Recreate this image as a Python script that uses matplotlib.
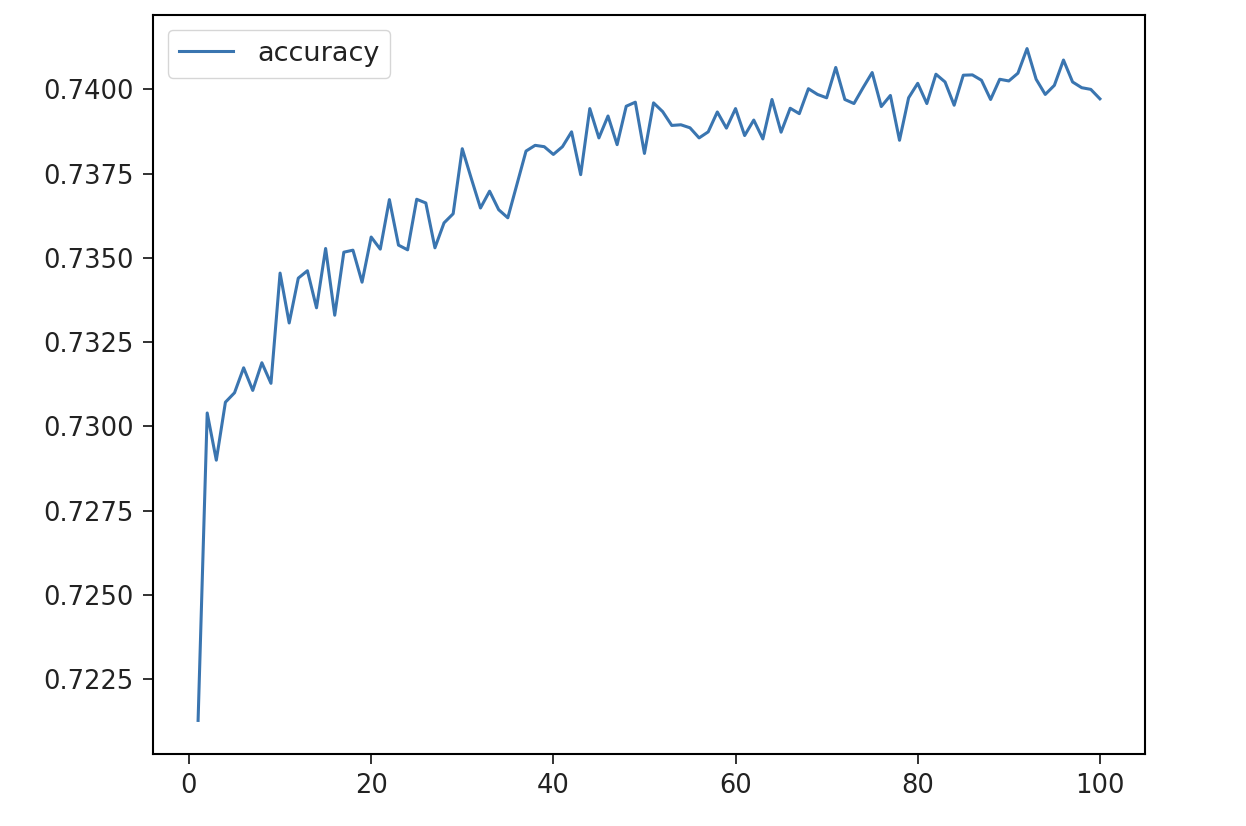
import matplotlib
matplotlib.use('Agg')
import matplotlib.pyplot as plt

epochs = list(range(1, 101))
accuracy = [
    0.72128, 0.73040, 0.72900, 0.73072, 0.73100, 0.73174, 0.73107, 0.73189, 0.73128, 0.73455,
    0.73307, 0.73440, 0.73462, 0.73352, 0.73528, 0.73330, 0.73517, 0.73523, 0.73428, 0.73562,
    0.73526, 0.73673, 0.73538, 0.73524, 0.73674, 0.73663, 0.73530, 0.73604, 0.73631, 0.73824,
    0.73735, 0.73648, 0.73698, 0.73643, 0.73619, 0.73718, 0.73817, 0.73834, 0.73830, 0.73807,
    0.73830, 0.73874, 0.73747, 0.73943, 0.73856, 0.73921, 0.73836, 0.73950, 0.73962, 0.73810,
    0.73960, 0.73934, 0.73893, 0.73895, 0.73886, 0.73856, 0.73874, 0.73933, 0.73885, 0.73943,
    0.73863, 0.73909, 0.73853, 0.73970, 0.73873, 0.73944, 0.73928, 0.74002, 0.73985, 0.73975,
    0.74065, 0.73970, 0.73958, 0.74005, 0.74050, 0.73949, 0.73982, 0.73849, 0.73975, 0.74018,
    0.73958, 0.74045, 0.74022, 0.73953, 0.74042, 0.74043, 0.74027, 0.73970, 0.74030, 0.74025,
    0.74048, 0.74121, 0.74030, 0.73985, 0.74012, 0.74087, 0.74022, 0.74005, 0.74000, 0.73972,
]

plt.rcParams['font.size'] = 18.5
plt.rcParams['text.color'] = '#222222'

fig = plt.figure(figsize=(12.46, 8.26), dpi=100)
ax = fig.add_axes([153 / 1246, 1 - 754 / 826, 992 / 1246, 739 / 826])
ax.plot(epochs, accuracy, color='#3a75b0', linewidth=2.2, label='accuracy')
ax.legend(loc='upper left', fontsize=19.5, handletextpad=0.9, handlelength=2.0,
          borderaxespad=0.55)
ax.yaxis.set_major_formatter(matplotlib.ticker.FormatStrFormatter('%.4f'))
ax.tick_params(length=7, width=1.3, pad=7, labelsize=18.5, colors='#222222')
for s in ax.spines.values():
    s.set_linewidth(1.5)

fig.savefig('out.png', dpi=100)
